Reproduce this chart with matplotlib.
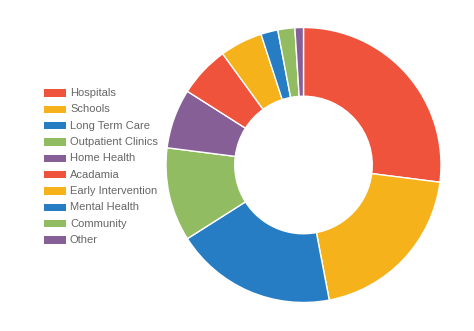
import matplotlib
matplotlib.use("Agg")
import matplotlib.pyplot as plt
from matplotlib.patches import Rectangle

# Share of placements by setting (percent)
labels = ["Hospitals", "Schools", "Long Term Care", "Outpatient Clinics",
          "Home Health", "Acadamia", "Early Intervention", "Mental Health",
          "Community", "Other"]
values = [27, 20, 19, 11, 7, 6, 5, 2, 2, 1]
colors = ["#EF533C", "#F6B21B", "#277DC4", "#92BC62", "#865F97",
          "#EF533C", "#F6B21B", "#277DC4", "#92BC62", "#865F97"]

W, H = 474, 331
plt.rcParams['font.family'] = ['Liberation Sans', 'DejaVu Sans']

fig = plt.figure(figsize=(W / 100, H / 100), dpi=100)

# donut: centre (303.5, 165) px, radius 137.5 px
cx, cy, r = 303.5, 165, 137.5
ax = fig.add_axes([(cx - r) / W, (H - cy - r) / H, 2 * r / W, 2 * r / H])
ax.pie(values, colors=colors, startangle=90, counterclock=False, radius=1.0,
       wedgeprops=dict(width=0.5, edgecolor="white", linewidth=1.0))
ax.set_xlim(-1, 1)
ax.set_ylim(-1, 1)
ax.set_aspect("equal")
ax.axis("off")

# legend on the left, drawn by hand
for i, (lab, col) in enumerate(zip(labels, colors)):
    yc = 93 + i * 16.33
    fig.patches.append(Rectangle((44 / W, (H - yc - 3.7) / H), 21.5 / W, 7.4 / H,
                                 transform=fig.transFigure, facecolor=col,
                                 edgecolor="none"))
    fig.text(70 / W, (H - yc) / H, lab, fontsize=8, color="#666666",
             va="center", ha="left")

fig.savefig("out.png", dpi=100, facecolor="white")
